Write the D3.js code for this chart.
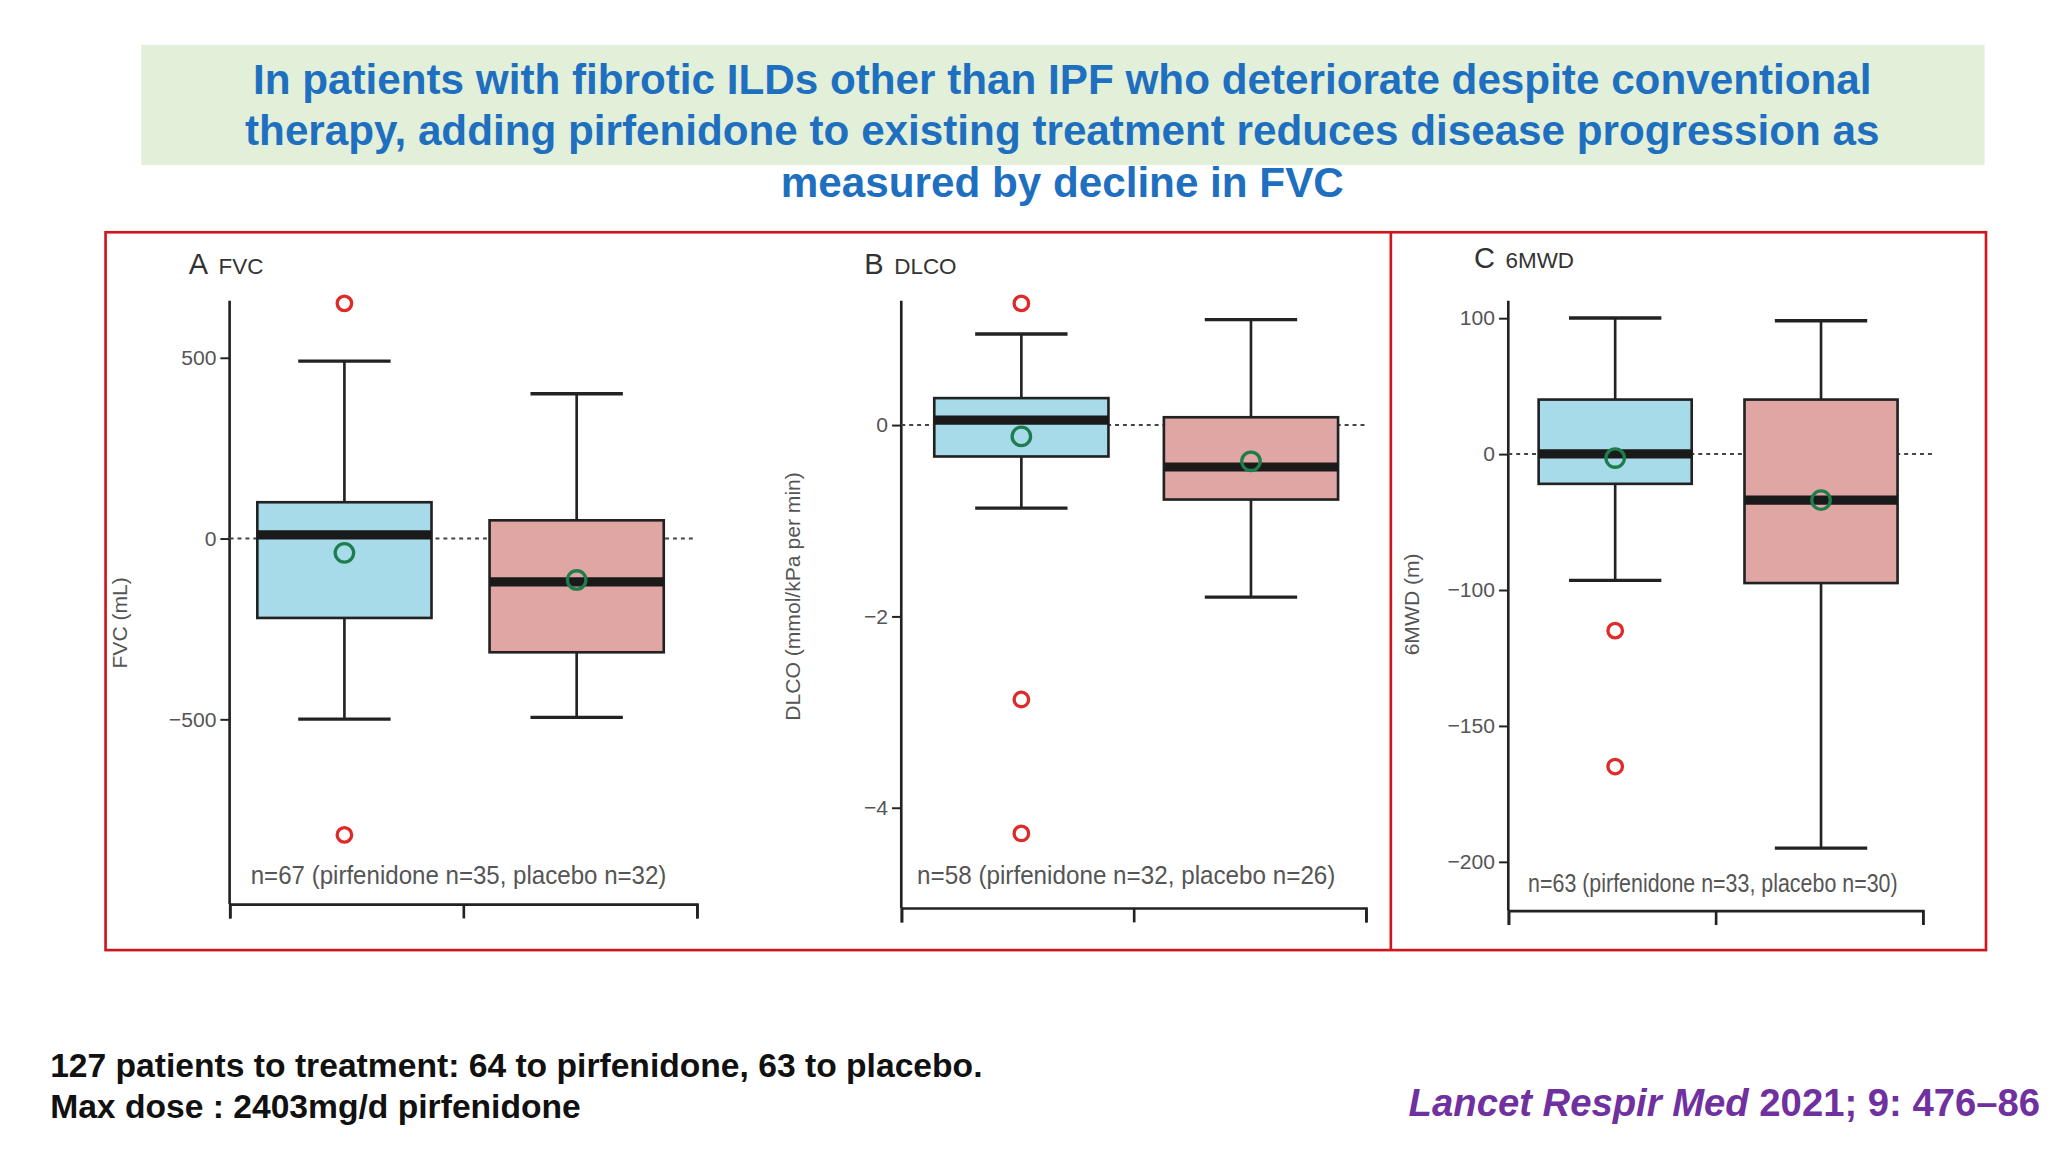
<!DOCTYPE html>
<html><head><meta charset="utf-8">
<script src="https://cdn.jsdelivr.net/npm/d3@7"></script>
<style>body{margin:0;background:#fff}svg{display:block}</style>
</head><body>
<svg id="c" width="2048" height="1152" viewBox="0 0 1552 873"></svg>
<script>
const titleLines = ["In patients with fibrotic ILDs other than IPF who deteriorate despite conventional",
  "therapy, adding pirfenidone to existing treatment reduces disease progression as",
  "measured by decline in FVC"];
const panelNames = ["FVC", "DLCO", "6MWD"];
const panelLetters = ["A", "B", "C"];
const yLabels = ["FVC (mL)", "DLCO (mmol/kPa per min)", "6MWD (m)"];
const nLabels = ["n=67 (pirfenidone n=35, placebo n=32)", "n=58 (pirfenidone n=32, placebo n=26)", "n=63 (pirfenidone n=33, placebo n=30)"];
const groups = ["pirfenidone", "placebo"];
// [whiskerLow, q1, median, q3, whiskerHigh, mean]
const fvcBoxes = [[-500, -220, 10, 100, 490, -40], [-495, -315, -120, 50, 400, -115]];
const dlcoBoxes = [[-0.87, -0.33, 0.05, 0.28, 0.95, -0.12], [-1.8, -0.78, -0.44, 0.08, 1.1, -0.38]];
const mwdBoxes = [[-93, -22, 0, 40, 100, -3], [-195, -95, -34, 40, 98, -34]];
const fvcOutliers = [650, -820];
const dlcoOutliers = [1.27, -2.87, -4.27];
const mwdOutliers = [-115, -165];
const fvcTicks = [500, 0, -500];
const dlcoTicks = [0, -2, -4];
const mwdTicks = [100, 0, -100, -150, -200];
const footLines = ["127 patients to treatment: 64 to pirfenidone, 63 to placebo.", "Max dose : 2403mg/d pirfenidone"];

const svg = d3.select("#c");
const sans = "Liberation Sans, Arial, sans-serif";
const narrow = "Liberation Sans Narrow, Liberation Sans, Arial, sans-serif";

svg.append("rect").attr("x", 107).attr("y", 34).attr("width", 1397).attr("height", 91).attr("fill", "#e2efd9");
svg.append("g").selectAll("text").data(titleLines).join("text")
  .attr("x", 805).attr("y", (d, i) => 71 + i * 39).attr("text-anchor", "middle")
  .attr("font-family", sans).attr("font-weight", "bold").attr("font-size", 32).attr("fill", "#1f6fc0")
  .text(d => d);

svg.append("rect").attr("x", 80).attr("y", 176).attr("width", 1425).attr("height", 544)
  .attr("fill", "none").attr("stroke", "#d0151d").attr("stroke-width", 2);
svg.append("line").attr("x1", 1054).attr("x2", 1054).attr("y1", 176).attr("y2", 720)
  .attr("stroke", "#d0151d").attr("stroke-width", 2);

const panels = [
  { boxes: fvcBoxes, outliers: fvcOutliers, ticks: fvcTicks, y: d3.scaleLinear().domain([500, -500]).range([271, 545]),
    ax: 174, x0: 174, x1: 528, top: 228, bottom: 685, centers: [261, 437], bw: 132, lblX: 96, lblY: 472, titleX: 143, titleY: 208, nY: 670, nX: 190, nW: 315, dotEnd: 528 },
  { boxes: dlcoBoxes, outliers: dlcoOutliers, ticks: dlcoTicks, y: d3.scaleLinear().domain([0, -4]).range([322, 612]),
    ax: 683, x0: 683, x1: 1035, top: 228, bottom: 688, centers: [774, 948], bw: 132, lblX: 606, lblY: 452, titleX: 655, titleY: 208, nY: 670, nX: 695, nW: 317, dotEnd: 1035 },
  { boxes: mwdBoxes, outliers: mwdOutliers, ticks: mwdTicks, y: d3.scaleLinear().domain([100, 0, -100, -200]).range([241, 344, 447, 653]),
    ax: 1143, x0: 1143, x1: 1457, top: 228, bottom: 690, centers: [1224, 1380], bw: 116, lblX: 1075, lblY: 458, titleX: 1117, titleY: 203, nY: 676, nX: 1158, nW: 280, dotEnd: 1465 }
];

panels.forEach((p, k) => {
  const g = svg.append("g");
  const yAxis = d3.axisLeft(p.y).tickValues(p.ticks).tickSize(7).tickFormat(d => d < 0 ? "\u2212" + Math.abs(d) : d);
  const ya = g.append("g").attr("transform", `translate(${p.ax},0)`).call(yAxis);
  ya.select(".domain").remove();
  ya.selectAll("line").attr("stroke", "#222").attr("stroke-width", 1.5);
  ya.selectAll("text").attr("font-family", narrow).attr("font-size", 16).attr("fill", "#555");
  g.append("line").attr("x1", p.ax).attr("x2", p.ax).attr("y1", p.top).attr("y2", p.bottom).attr("stroke", "#222").attr("stroke-width", 2);
  const xa = g.append("g").attr("transform", `translate(0,${p.bottom})`)
    .call(d3.axisBottom(d3.scaleLinear().domain([0, 2]).range([p.x0, p.x1])).tickValues([0, 1, 2]).tickSize(11).tickFormat(""));
  xa.selectAll("path,line").attr("stroke", "#222").attr("stroke-width", 2);
  g.append("line").attr("x1", p.ax).attr("x2", p.dotEnd).attr("y1", p.y(0)).attr("y2", p.y(0))
    .attr("stroke", "#444").attr("stroke-width", 1.5).attr("stroke-dasharray", "3,3");
  const cols = ["#a8dbea", "#dfa6a4"];
  p.boxes.forEach((b, i) => {
    const cx = p.centers[i], hw = p.bw / 2, cap = 35;
    g.append("line").attr("x1", cx).attr("x2", cx).attr("y1", p.y(b[4])).attr("y2", p.y(b[0])).attr("stroke", "#222").attr("stroke-width", 2);
    [b[0], b[4]].forEach(v => g.append("line").attr("x1", cx - cap).attr("x2", cx + cap).attr("y1", p.y(v)).attr("y2", p.y(v)).attr("stroke", "#222").attr("stroke-width", 2.5));
    g.append("rect").attr("x", cx - hw).attr("width", p.bw).attr("y", p.y(b[3])).attr("height", p.y(b[1]) - p.y(b[3]))
      .attr("fill", cols[i]).attr("stroke", "#222").attr("stroke-width", 2);
    g.append("line").attr("x1", cx - hw).attr("x2", cx + hw).attr("y1", p.y(b[2])).attr("y2", p.y(b[2])).attr("stroke", "#1a1a1a").attr("stroke-width", 7);
    g.append("circle").attr("cx", cx).attr("cy", p.y(b[5])).attr("r", 7).attr("fill", "none").attr("stroke", "#1e7d4c").attr("stroke-width", 2.5);
  });
  g.selectAll(".out").data(p.outliers).join("circle").attr("cx", p.centers[0]).attr("cy", d => p.y(d)).attr("r", 5.5)
    .attr("fill", "#fff").attr("stroke", "#e02a2a").attr("stroke-width", 2.5);
  g.append("text").attr("transform", `translate(${p.lblX},${p.lblY}) rotate(-90)`).attr("text-anchor", "middle")
    .attr("font-family", sans).attr("font-size", 16).attr("fill", "#555").text(yLabels[k]);
  const t = g.append("text").attr("x", p.titleX).attr("y", p.titleY).attr("font-family", narrow).attr("fill", "#333");
  t.append("tspan").attr("font-size", 22).text(panelLetters[k]);
  t.append("tspan").attr("dx", 8).attr("font-size", 17).text(panelNames[k]);
  g.append("text").attr("x", p.nX).attr("y", p.nY).attr("font-family", narrow).attr("font-size", 19).attr("fill", "#555")
    .attr("textLength", p.nW).attr("lengthAdjust", "spacingAndGlyphs").text(nLabels[k]);
});

svg.append("g").selectAll("text").data(footLines).join("text")
  .attr("x", 38).attr("y", (d, i) => 816 + i * 31).attr("font-family", sans).attr("font-weight", "bold").attr("font-size", 25.5).attr("fill", "#111").text(d => d);
const cit = svg.append("text").attr("x", 1546).attr("y", 846).attr("text-anchor", "end")
  .attr("font-family", sans).attr("font-weight", "bold").attr("font-size", 29).attr("fill", "#7030a0");
cit.append("tspan").attr("font-style", "italic").text("Lancet Respir Med");
cit.append("tspan").text(" 2021; 9: 476\u201386");
</script>
</body></html>
